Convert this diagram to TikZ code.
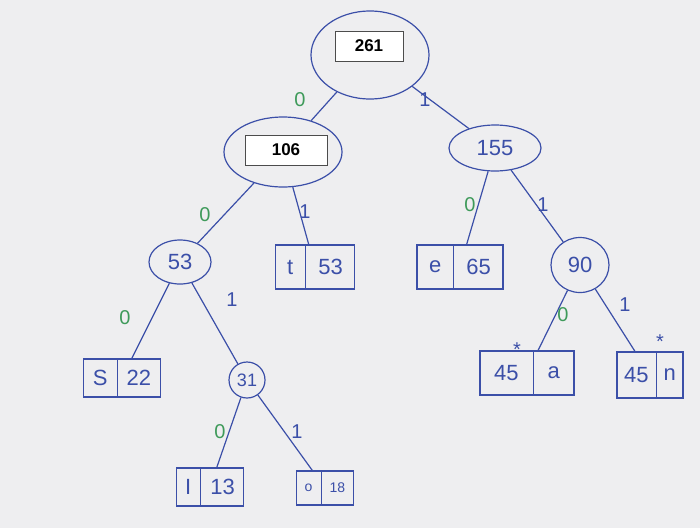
\documentclass[tikz,border=0pt]{standalone}
\usepackage{fontspec}
\setmainfont{Liberation Sans}
\usetikzlibrary{shapes.geometric,shapes.multipart}
\definecolor{pen}{HTML}{3B4FA8}
\definecolor{gpen}{HTML}{3E9A5A}
\definecolor{paper}{HTML}{EEEEF0}
\tikzset{
  inner/.style={ellipse,draw=pen,line width=1.2pt,text=pen,font=\fontsize{22}{24}\selectfont},
  leaf/.style={rectangle split,rectangle split horizontal,rectangle split parts=2,draw=pen,line width=1.2pt,text=pen,font=\fontsize{22}{24}\selectfont,minimum height=38pt,inner ysep=5pt,inner xsep=9pt},
  wbox/.style={draw=black!70,fill=white,font=\bfseries\fontsize{17}{19}\selectfont,minimum width=68pt,minimum height=30pt},
  edge/.style={pen,line width=1.2pt},
  zero/.style={text=gpen,font=\fontsize{20}{22}\selectfont},
  one/.style={text=pen,font=\fontsize{20}{22}\selectfont},
  star/.style={text=pen,font=\fontsize{20}{22}\selectfont}
}
\begin{document}
\begin{tikzpicture}[x=1pt,y=-1pt]
\fill[paper] (0,0) rectangle (700,528);
\useasboundingbox (0,0) rectangle (700,528);
\node[inner,minimum width=118pt,minimum height=88pt] (r) at (370,55) {};
\node[wbox] (b261) at (369,46) {261};
\node[inner,minimum width=118pt,minimum height=70pt] (n106) at (283,152) {};
\node[wbox,minimum width=82pt] (b106) at (286,150) {106};
\node[inner,minimum width=92pt,minimum height=46pt,inner sep=1pt] (n155) at (495,148) {155};
\node[inner,minimum width=62pt,minimum height=44pt,inner sep=1pt] (n53) at (180,262) {53};
\node[inner,minimum width=58pt,minimum height=55pt,inner sep=1pt] (n90) at (580,265) {90};
\node[inner,minimum width=36pt,minimum height=36pt,inner sep=0pt,font=\fontsize{18}{20}\selectfont] (n31) at (247,380) {31};
\node[leaf,minimum height=44pt,inner xsep=12pt] (t) at (315,267) {t\nodepart{two}53};
\node[leaf,minimum height=44pt,inner xsep=12pt] (e) at (460,267) {e\nodepart{two}65};
\node[leaf] (s) at (122,378) {S\nodepart{two}22};
\node[leaf,minimum height=44pt,inner xsep=14pt] (a) at (527,373) {45\nodepart{two}a};
\node[leaf,minimum height=46pt,inner xsep=7pt] (nn) at (650,375) {45\nodepart{two}n};
\node[leaf] (i) at (210,487) {I\nodepart{two}13};
\node[leaf,minimum height=34pt,inner xsep=8pt,font=\fontsize{14}{16}\selectfont] (o) at (325,488) {o\nodepart{two}18};
\node[star] (sa) at (517,350) {*};
\node[star] (sn) at (660,342) {*};
\draw[edge] (r) -- (n106);
\draw[edge] (r) -- (n155);
\draw[edge] (n106) -- (n53);
\draw[edge] (n106) -- (t);
\draw[edge] (n155) -- (e);
\draw[edge] (n155) -- (n90);
\draw[edge] (n53) -- (s);
\draw[edge] (n53) -- (n31);
\draw[edge] (n90) -- (a);
\draw[edge] (n90) -- (nn);
\draw[edge] (n31) -- (i);
\draw[edge] (n31) -- (o);
\node[zero] (l1) at (300,100) {0};
\node[one] (l2) at (425,100) {1};
\node[zero] (l3) at (205,215) {0};
\node[one] (l4) at (305,212) {1};
\node[zero] (l5) at (470,205) {0};
\node[one] (l6) at (543,205) {1};
\node[zero] (l7) at (125,318) {0};
\node[one] (l8) at (232,300) {1};
\node[zero] (l9) at (563,315) {0};
\node[one] (l10) at (625,305) {1};
\node[zero] (l11) at (220,432) {0};
\node[one] (l12) at (297,432) {1};
\end{tikzpicture}
\end{document}
